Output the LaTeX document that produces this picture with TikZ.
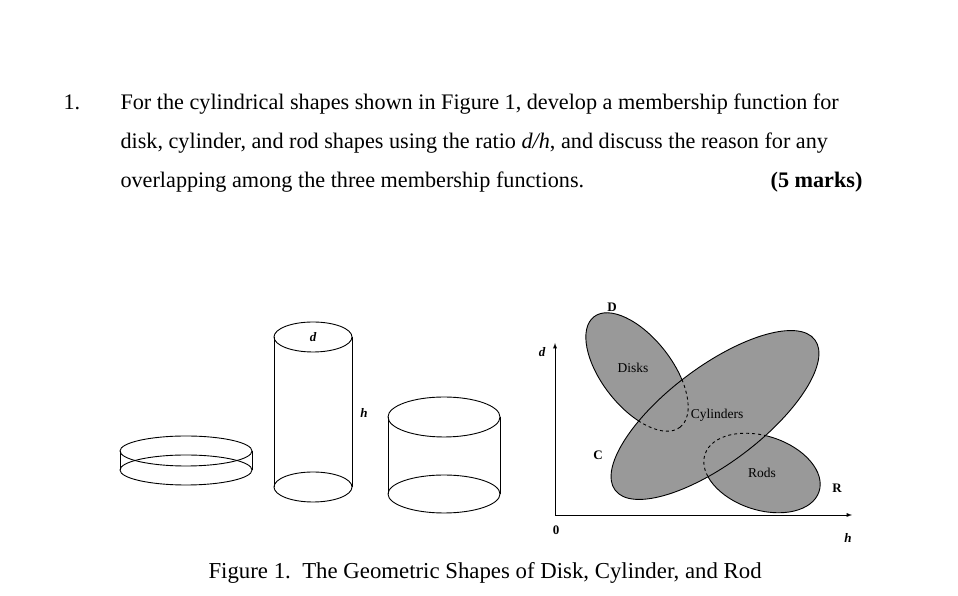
\documentclass[tikz,border=0pt]{standalone}
\usepackage{fontspec}
\setmainfont{Liberation Serif}
\tikzset{eoclip/.code={\pgfseteorule}}
\begin{document}
\begin{tikzpicture}[x=1pt,y=1pt,
  body/.style={font=\fontsize{22.2}{26}\selectfont},
  lab/.style={font=\fontsize{13.5}{15}\selectfont},
  axlab/.style={font=\fontsize{13}{15}\selectfont\bfseries},
  shp/.style={line width=0.9pt}]
\useasboundingbox[fill=white] (0,0) rectangle (958,596);
% text
\node[body,anchor=base west] (n1) at (60,486) {1.};
\node[body,anchor=base west] (l1) at (117,486) {For the cylindrical shapes shown in Figure 1, develop a membership function for};
\node[body,anchor=base west] (l2) at (117,447) {disk, cylinder, and rod shapes using the ratio \textit{d/h}, and discuss the reason for any};
\node[body,anchor=base west] (l3) at (117,408) {overlapping among the three membership functions.};
\node[body,anchor=base east] (mk) at (866,408) {\textbf{(5 marks)}};
\node[body,font=\fontsize{22.8}{26}\selectfont,anchor=base west] (cap) at (205,17) {Figure 1.\ \ The Geometric Shapes of Disk, Cylinder, and Rod};
% disk
\draw[shp] (186,145) ellipse (66 and 15);
\draw[shp] (186,126) ellipse (66 and 15);
\draw[shp] (120,145) -- (120,126) (252,145) -- (252,126);
% tall cylinder
\draw[shp] (313,259) ellipse (39 and 15);
\draw[shp] (313,109) ellipse (39 and 15);
\draw[shp] (274,259) -- (274,109) (352,259) -- (352,109);
\node[lab,font=\fontsize{13}{15}\selectfont\itshape\bfseries] (dd) at (313,259) {d};
\node[lab,font=\fontsize{13}{15}\selectfont\itshape\bfseries] (hh) at (364,183) {h};
% short cylinder
\draw[shp] (444,179) ellipse (56 and 20);
\draw[shp] (444,102) ellipse (56 and 19);
\draw[shp] (388,179) -- (388,102) (500,179) -- (500,102);
% axes
\coordinate (O) at (555,81);
\coordinate (Y) at (555,253);
\coordinate (X) at (852,81);
\draw[line width=0.9pt,-latex] (O) -- (Y);
\draw[line width=0.9pt,-latex] (O) -- (X);
\node[axlab,font=\fontsize{13}{15}\selectfont\bfseries\itshape] (dl) at (542,244) {d};
\node[axlab] (ol) at (556,66) {0};
\node[axlab,font=\fontsize{13}{15}\selectfont\bfseries\itshape] (hl) at (848,58) {h};
\node[axlab] (Dl) at (612,289) {D};
\node[axlab] (Cl) at (598,141) {C};
\node[axlab] (Rl) at (837,108) {R};
% regions
\def\disks{(637,224) ellipse [x radius=70,y radius=35,rotate=-52]}
\def\cyls{(715,181) ellipse [x radius=125,y radius=48,rotate=37]}
\def\rods{(762,123) ellipse [x radius=60,y radius=37,rotate=-18]}
\fill[black!40] \disks;
\fill[black!40] \cyls;
\fill[black!40] \rods;
\begin{scope}
\clip \cyls;
\draw[shp,dashed] \disks;
\draw[shp,dashed] \rods;
\end{scope}
\begin{scope}
\clip[eoclip] (500,0) rectangle (958,400) \cyls;
\draw[shp] \disks;
\draw[shp] \rods;
\end{scope}
\draw[shp] \cyls;
\node[lab] (dk) at (633,228) {Disks};
\node[lab] (cy) at (717,181) {Cylinders};
\node[lab] (rd) at (762,123) {Rods};
\end{tikzpicture}
\end{document}
